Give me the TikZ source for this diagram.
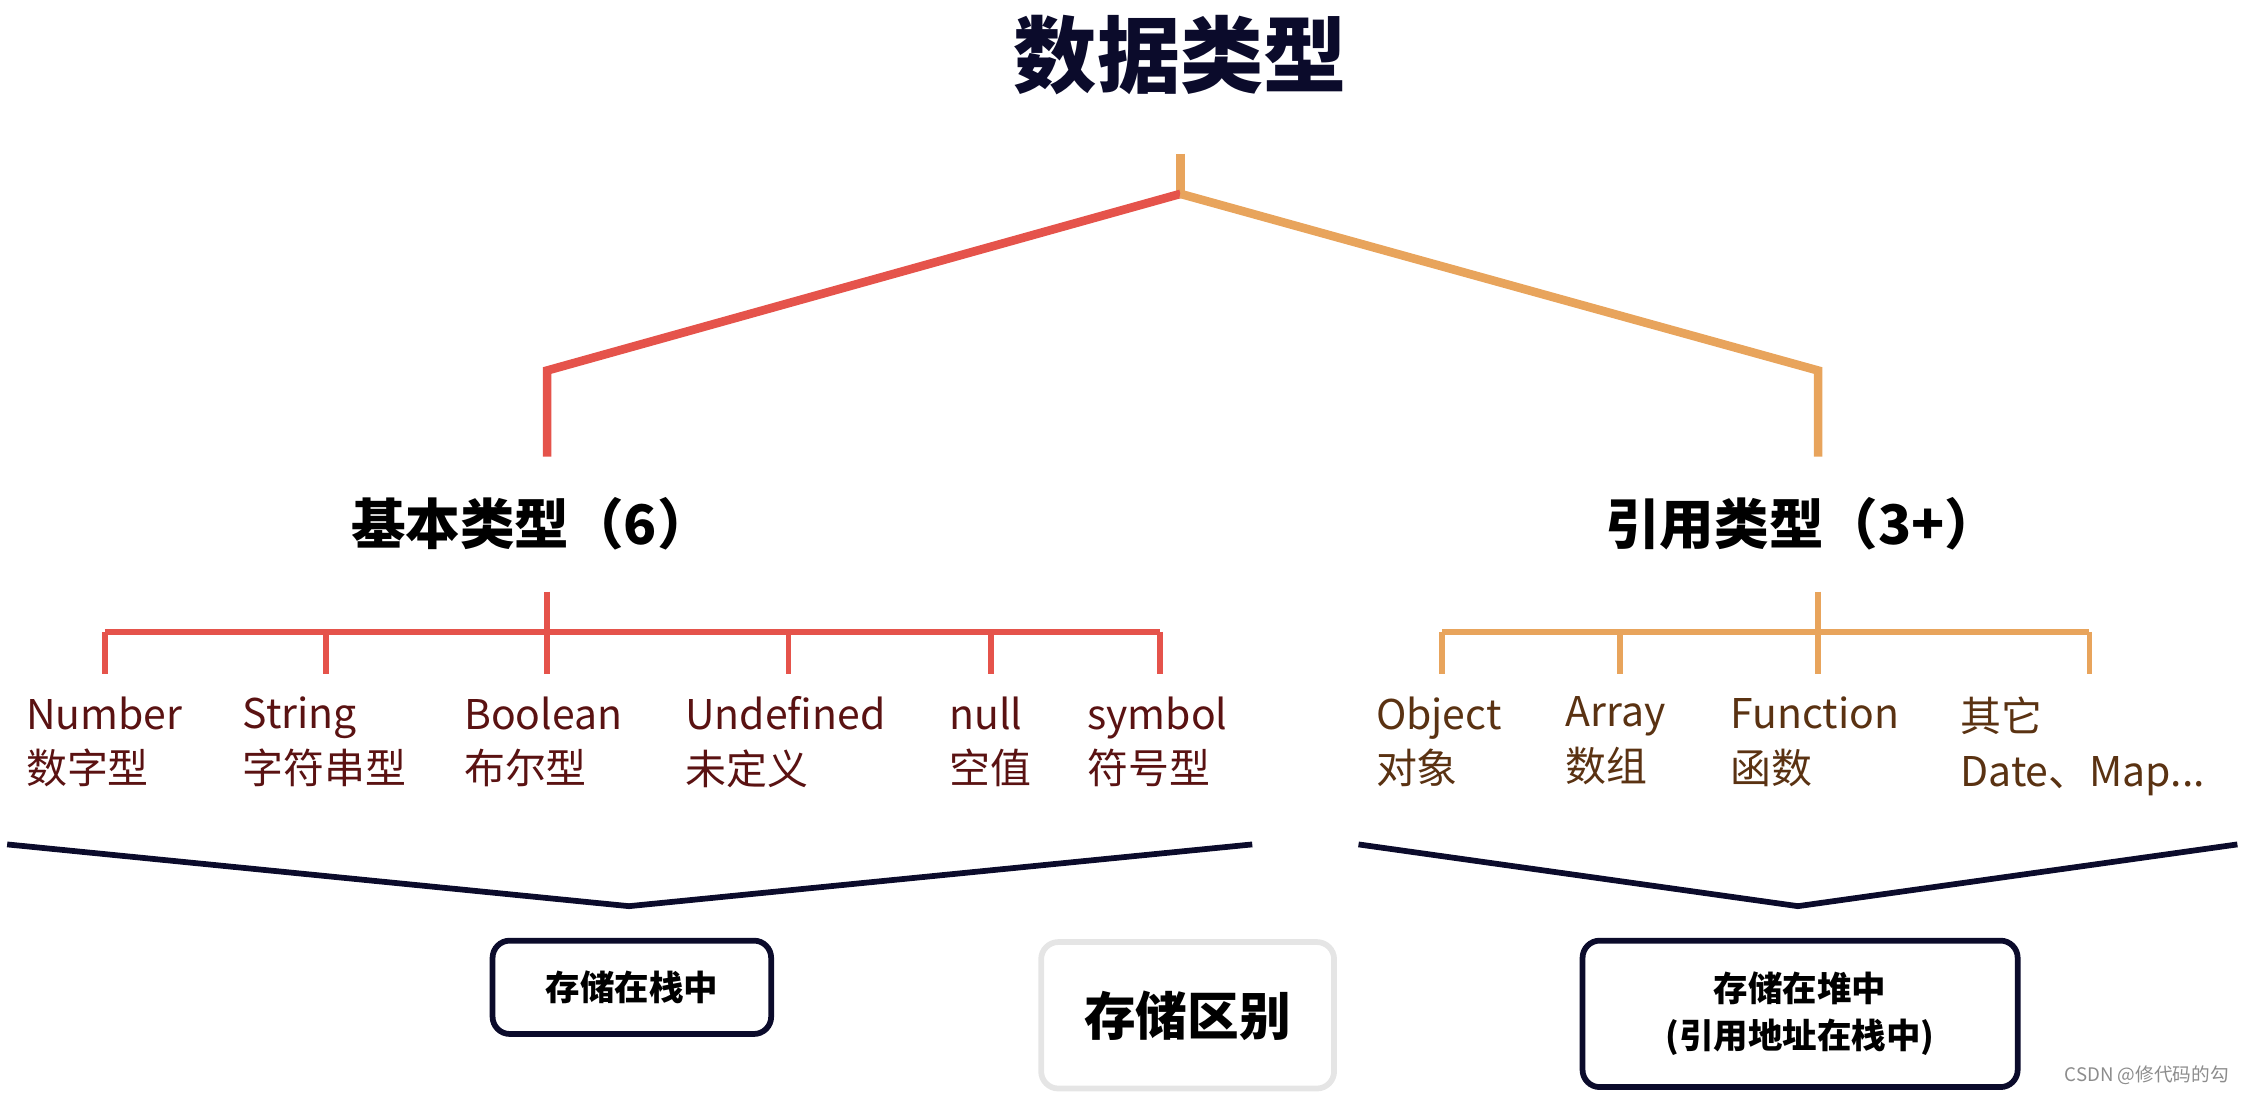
\documentclass[tikz,border=0pt]{standalone}
\usepackage{fontspec}
\setmainfont{Noto Sans CJK SC}
\definecolor{rd}{HTML}{E5534B}
\definecolor{og}{HTML}{E8A45C}
\definecolor{nv}{HTML}{0B0B2B}
\definecolor{tr}{HTML}{5A1212}
\definecolor{tb}{HTML}{5A3212}
\begin{document}
\begin{tikzpicture}[x=1pt,y=-1pt,
 rl/.style={draw=rd,line width=6},
 ol/.style={draw=og,line width=6},
 rb/.style={draw=rd,line width=4},
 obr/.style={draw=og,line width=4},
 vl/.style={draw=nv,line width=4},
 leafl/.style={anchor=north west,font=\fontsize{28.5}{38}\selectfont,text=tr,align=left,inner sep=0},
 leafr/.style={leafl,text=tb},
 box/.style={draw=nv,line width=4,rounded corners=12,font=\bfseries\fontsize{24}{33}\selectfont,align=center}]
\useasboundingbox (0,0) rectangle (1564,763);
\node[font=\bfseries\fontsize{58}{60}\selectfont,text=nv] (t) at (822,38) {数据类型};
\coordinate (s0) at (822,107); \coordinate (s1) at (822,135);
\coordinate (l1) at (381,258); \coordinate (l2) at (381,318);
\coordinate (r1) at (1266,258); \coordinate (r2) at (1266,318);
\draw[ol] (s0)--(s1);
\draw[rl,line join=miter] (s1)--(l1)--(l2);
\draw[ol,line join=miter] (s1)--(r1)--(r2);
\node[font=\bfseries\fontsize{38}{40}\selectfont] (bl) at (370,365) {基本类型（6）};
\node[font=\bfseries\fontsize{38}{40}\selectfont] (br) at (1255,365) {引用类型（3+）};
\draw[rb] (381,412)--(381,440);
\draw[rb] (73,440)--(808,440);
\foreach \x in {73,227,381,549,690,808} \draw[rb] (\x,440)--(\x,469);
\draw[obr] (1266,412)--(1266,440);
\draw[obr] (1004,440)--(1455,440);
\foreach \x in {1004,1128,1266,1455} \draw[obr] (\x,440)--(\x,469);
\node[leafl] (n1) at (18,485) {Number\\数字型};
\node[leafl] (n2) at (169,485) {String\\字符串型};
\node[leafl] (n3) at (323,485) {Boolean\\布尔型};
\node[leafl] (n4) at (477,485) {Undefined\\未定义};
\node[leafl] (n5) at (661,485) {null\\空值};
\node[leafl] (n6) at (757,485) {symbol\\符号型};
\node[leafr] (m1) at (958,485) {Object\\对象};
\node[leafr] (m2) at (1090,485) {Array\\数组};
\node[leafr] (m3) at (1205,485) {Function\\函数};
\node[leafr] (m4) at (1365,485) {其它\\Date、Map...};
\draw[vl] (5,588)--(438,631)--(872,588);
\draw[vl] (946,588)--(1252,631)--(1558,588);
\node[box,minimum width=194,minimum height=65] (b1) at (440,687.5) {存储在栈中};
\node[box,draw=black!10,minimum width=204,minimum height=102,font=\bfseries\fontsize{36}{40}\selectfont] (b2) at (827,707) {存储区别};
\node[box,minimum width=303,minimum height=102] (b3) at (1253.5,706) {存储在堆中\\(引用地址在栈中)};
\node[font=\fontsize{13}{15}\selectfont,text=black!45] (w) at (1495,749) {CSDN @修代码的勾};
\end{tikzpicture}
\end{document}
